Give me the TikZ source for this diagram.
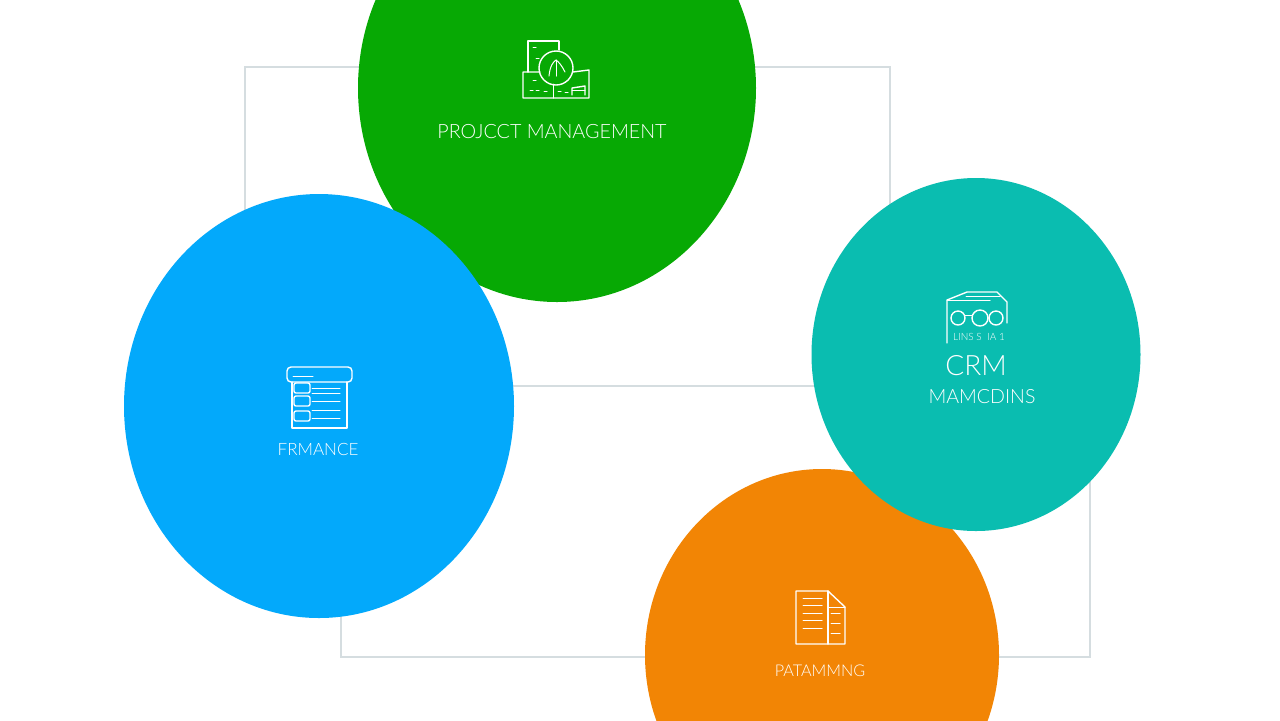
\documentclass[tikz,border=0pt]{standalone}
\usepackage{fontspec}
\setmainfont{Lato Light}[BoldFont=Lato]
\usetikzlibrary{positioning,shapes.geometric}
\definecolor{projgreen}{HTML}{07A904}
\definecolor{finblue}{HTML}{03A9FB}
\definecolor{crmteal}{HTML}{0ABDB0}
\definecolor{planorange}{HTML}{F28505}
\definecolor{framegrey}{HTML}{D5DDE0}
\tikzset{
  bubble/.style={ellipse,inner sep=0pt,draw=none},
  frameline/.style={draw=framegrey,line width=0.6pt},
  iconline/.style={draw=white,line width=0.7pt,line join=round,line cap=round},
  thinline/.style={draw=white,line width=0.5pt,line cap=round},
  label/.style={text=white,inner sep=0pt,font=\fontsize{#1}{10}\selectfont},
  label/.default=9,
}
\begin{document}
\begin{tikzpicture}[x=0.5pt,y=-0.5pt]
  \useasboundingbox (0,0) rectangle (1280,720);
  \fill[white] (0,0) rectangle (1280,720);

  % frames behind the circles
  \coordinate (frameAtl) at (245,67);
  \coordinate (frameAbr) at (890,386);
  \coordinate (frameBtl) at (341,386);
  \coordinate (frameBbr) at (1090,657);
  \draw[frameline] (frameAtl) rectangle (frameAbr);
  \draw[frameline] (frameBtl) rectangle (frameBbr);

  % circles
  \begin{scope}
    \clip (0,0) rectangle (1280,720);
    \node[bubble,fill=projgreen,minimum width=199pt,minimum height=214pt] (proj) at (557,88) {};
    \node[bubble,fill=planorange,minimum width=177pt,minimum height=186pt] (plan) at (822,655) {};
    \node[bubble,fill=finblue,minimum width=195pt,minimum height=212pt] (fin) at (319,406) {};
    \node[bubble,fill=crmteal,minimum width=164.5pt,minimum height=176.5pt] (crm) at (976,354.5) {};
  \end{scope}

  % labels
  \node[label=9.85] (projtext) at (552,132) {PROJCCT MANAGEMENT};
  \node[label=8.5] (fintext) at (318,449) {FRMANCE};
  \node[label=14] (crmtext) at (976,366) {CRM};
  \node[label=9.8] (crmsub) at (982,397) {MAMCDINS};
  \node[label=8.1] (plantext) at (820,671) {PATAMMNG};

  % project icon
  \draw[iconline] (528,72) -- (528,41) -- (559,41) -- (559,50);
  \draw[iconline] (540,72) -- (523,72) -- (523,98) -- (589,98) -- (589,70) -- (573,72);
  \draw[iconline] (556,68) circle (17);
  \draw[thinline] (549,76) .. controls (550,66) and (553,62) .. (556,60) .. controls (559,62) and (562,66) .. (565,72);
  \draw[thinline] (556,60) -- (556,76);
  \draw[iconline] (572,95) -- (572,88) -- (585,86) -- (585,95);
  \draw[thinline] (572,90) -- (585,90);
  \draw[thinline] (553,84) -- (553,98);
  \foreach \x/\y in {533/47,536/58,533/80,530/90,536/90,544/91,558/91,565/92} {
    \draw[thinline] (\x,\y) -- ++(3,0);
  }

  % finance icon
  \draw[iconline,rounded corners=2pt] (287,382) -- (287,367) -- (352,367) -- (352,382) -- cycle;
  \draw[iconline] (292,382) -- (292,428) -- (347,428) -- (347,382);
  \draw[thinline] (293,376) -- (313,376);
  \foreach \y in {383,396,411} {
    \draw[iconline,rounded corners=1pt] (294,\y) rectangle ++(16,10);
  }
  \foreach \y in {388,393,401,410,418} {
    \draw[thinline] (312,\y) -- (340,\y);
  }

  % crm icon
  \draw[iconline] (947,343) -- (947,300) -- (967,292) -- (997,292) -- (1007,302) -- (1007,323);
  \draw[thinline] (947,300) -- (990,300);
  \draw[thinline] (966,296) -- (1000,296);
  \draw[iconline] (958,318) circle (7);
  \draw[iconline] (980,318) circle (8);
  \draw[iconline] (996,318) circle (7);
  \draw[thinline] (965,315) -- (972,315);
  \node[label=5] (crmtiny) at (979,337) {LINS S \ IA 1};

  % planning icon
  \draw[iconline] (828,591) -- (796,591) -- (796,644) -- (845,644) -- (845,607) -- cycle;
  \draw[iconline] (828,591) -- (828,644);
  \draw[thinline] (828,607) -- (845,607);
  \foreach \y in {598,605,613,620,628} {
    \draw[thinline] (803,\y) -- (822,\y);
  }
  \foreach \y in {613,623,633} {
    \draw[thinline] (831,\y) -- (840,\y);
  }
\end{tikzpicture}
\end{document}
